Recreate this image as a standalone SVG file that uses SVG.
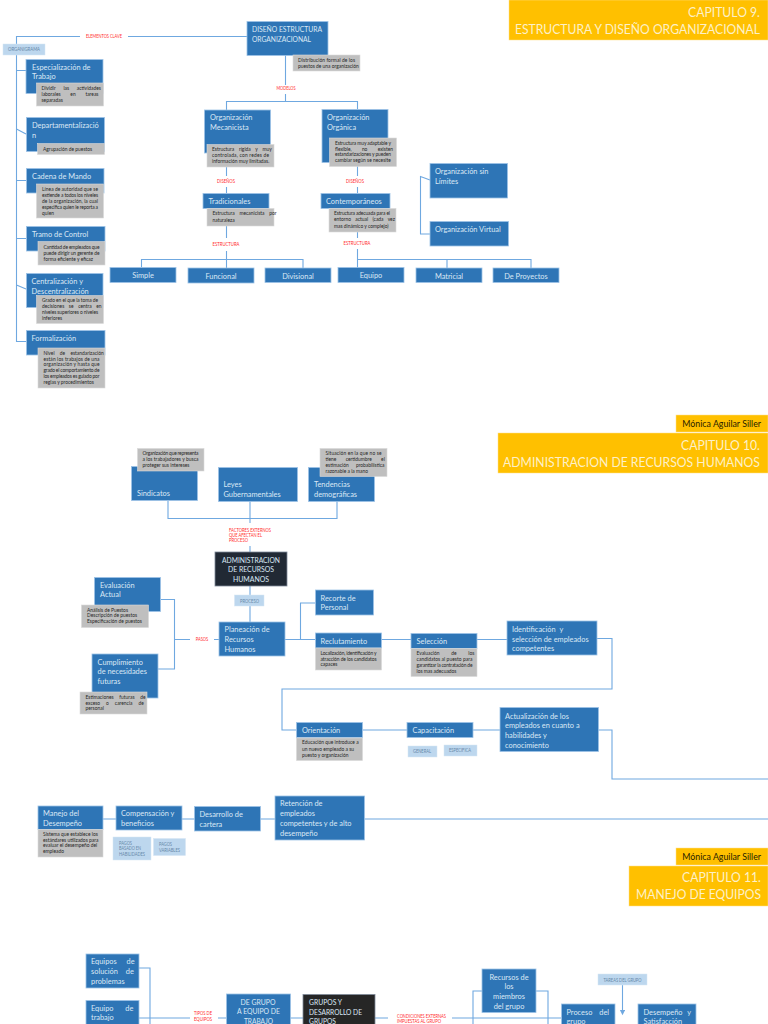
<svg xmlns="http://www.w3.org/2000/svg" width="768" height="1024" viewBox="0 0 768 1024">
<style>
text{font-family:"Lato","Liberation Sans",sans-serif}
.b{fill:#2e75b6;stroke:#9dc3e6;stroke-width:.8}
.d{stroke:#7f8a99;stroke-width:.8}
.g{fill:#bfbfbf;stroke:#d9d9d9;stroke-width:.6}
.s{fill:#bdd7ee;stroke:#d5e5f4;stroke-width:.5}
.y{fill:#ffc000;stroke:#ffe08a;stroke-width:.5}
.t{font-size:7.4px;fill:#dbe8f5}
.c{text-anchor:middle}
.n{font-size:4.9px;fill:#262626}
.r{font-size:5.4px;fill:#ff2a2a;text-anchor:middle}
.u{font-size:5.2px;fill:#6587a8;text-anchor:middle}
.l{text-anchor:start}
.h{font-size:12.4px;fill:#fdf0c8}
.m{font-size:8.8px;fill:#262000;text-anchor:end}
#links path{fill:none;stroke:#6fa8e0;stroke-width:1.1}
</style>
<defs><marker id="ah" markerWidth="6" markerHeight="6" refX="3" refY="2.500" orient="auto"><path d="M0 0L5 2.500L0 5Z" fill="#6fa8e0"/></marker></defs>
<g id="links">
<path d="M80 36.500H16.500V341.500H26M128 36.500H247M16.500 70.500H26M16.500 129L26 134M16.500 180.500H26M16.500 238.500H26M16.500 285L26 289"/>
<path d="M285.500 55V85M285.500 94V101.500M226.500 110V101.500H357.500V109M226.500 167V176M226.500 187V193M357.500 166V176M357.500 187V193M226.500 226V238M226.500 251V268M141.500 267V259.500H303V268M357.500 232V238M357.500 249V268M357.500 259.500H531V268M447 259.500V268M430 180L420.500 176.500V234H430"/>
<path d="M168 501V518.500H337V501M250 501V523M250 546V552M250 586V622M161 599.500H174.500V669H158M174.500 639.500H190M214 639.500H219M285 639.500H315M300.500 639.500V603H315M381 639.500H411M477 639.500H507M597 638.500H612V689H282V730H296M363 730H407M473 730H500M598 730H612V779H768M100 819H768"/>
<path d="M139 968H150V1024M139 1018H190M218 1018H226M290 1018H303M375 1018H388M452 1018H561M473 1024V991H482M536 991H548V1024"/>
<path d="M622.500 985V1013" marker-end="url(#ah)"/>
</g>
<g id="cap9"><rect class="y" x="509" y="0" width="259" height="40"/><text class="h" x="688" y="17" textLength="72" lengthAdjust="spacingAndGlyphs">CAPITULO 9.</text><text class="h" x="515" y="33.500" textLength="245" lengthAdjust="spacingAndGlyphs">ESTRUCTURA Y DISEÑO ORGANIZACIONAL</text></g>
<g id="autor10"><rect class="y" x="676" y="415" width="92" height="17"/><text class="m" x="761" y="427">Mónica Aguilar Siller</text></g>
<g id="cap10"><rect class="y" x="498" y="433" width="270" height="40"/><text class="h" x="681" y="450" textLength="79" lengthAdjust="spacingAndGlyphs">CAPITULO 10.</text><text class="h" x="503" y="467" textLength="257" lengthAdjust="spacingAndGlyphs">ADMINISTRACION DE RECURSOS HUMANOS</text></g>
<g id="autor11"><rect class="y" x="676" y="848" width="92" height="17"/><text class="m" x="761" y="860">Mónica Aguilar Siller</text></g>
<g id="cap11"><rect class="y" x="629" y="866" width="139" height="40"/><text class="h" x="682" y="882" textLength="79" lengthAdjust="spacingAndGlyphs">CAPITULO 11.</text><text class="h" x="636" y="899" textLength="125" lengthAdjust="spacingAndGlyphs">MANEJO DE EQUIPOS</text></g>

<g id="diseno"><rect class="b" x="247" y="21.500" width="81" height="34"/><text class="t" x="252" y="31.500" textLength="70" lengthAdjust="spacingAndGlyphs">DISEÑO ESTRUCTURA</text><text class="t" x="252" y="41.500" textLength="59" lengthAdjust="spacingAndGlyphs">ORGANIZACIONAL</text>
<rect class="g" x="293" y="55" width="67" height="16"/><text class="n" x="298" y="61.500" textLength="57">Distribución formal de los</text><text class="n" x="298" y="68">puestos de una organización</text></g>
<g id="elementos"><text class="r" x="104" y="38" textLength="36" lengthAdjust="spacingAndGlyphs">ELEMENTOS CLAVE</text></g>
<g id="organigrama"><rect class="s" x="3" y="44" width="42" height="11"/><text class="u" x="24" y="51" textLength="32" lengthAdjust="spacingAndGlyphs">ORGANIGRAMA</text></g>
<g id="especializacion"><rect class="b" x="26" y="59.500" width="77" height="34"/><text class="t" x="32" y="70">Especialización de</text><text class="t" x="32" y="79">Trabajo</text>
<rect class="g" x="36.500" y="83" width="67" height="23"/><text class="n" x="41.500" y="90" word-spacing="6.500">Dividir las actividades</text><text class="n" x="41.500" y="96" word-spacing="8.500">laborales en tareas</text><text class="n" x="41.500" y="102">separadas</text></g>
<g id="departamentalizacion"><rect class="b" x="26.500" y="117.500" width="78" height="34"/><text class="t" x="32" y="127.500">Departamentalizació</text><text class="t" x="32" y="137.500">n</text>
<rect class="g" x="37.500" y="143.500" width="67" height="11"/><text class="n" x="43" y="150.500">Agrupación de puestos</text></g>
<g id="cadena"><rect class="b" x="26.500" y="168.500" width="77.500" height="24.500"/><text class="t" x="32" y="179">Cadena de Mando</text>
<rect class="g" x="36.500" y="184" width="67" height="34"/><text class="n" x="42" y="190.500" textLength="56">Línea de autoridad que se</text><text class="n" x="42" y="196.500" textLength="56">extiende a todos los niveles</text><text class="n" x="42" y="202.500" textLength="56">de la organización, la cual</text><text class="n" x="42" y="208.500" textLength="56">especifica quien le reporta a</text><text class="n" x="42" y="214.500">quien</text></g>
<g id="tramo"><rect class="b" x="26.500" y="226.500" width="78.500" height="24.500"/><text class="t" x="32" y="237">Tramo de Control</text>
<rect class="g" x="38" y="241.500" width="67" height="23.500"/><text class="n" x="43.500" y="248.500" textLength="56">Cantidad de empleados que</text><text class="n" x="43.500" y="254.500" textLength="56">puede dirigir un gerente de</text><text class="n" x="43.500" y="260.500">forma eficiente y eficaz</text></g>
<g id="centralizacion"><rect class="b" x="26.500" y="273.500" width="76.500" height="34"/><text class="t" x="31.500" y="283.500">Centralización y</text><text class="t" x="31.500" y="293.500">Descentralización</text>
<rect class="g" x="36.500" y="295.500" width="67" height="28"/><text class="n" x="42" y="302" textLength="56">Grado en el que la toma de</text><text class="n" x="42" y="308" word-spacing="3.300">decisiones se centra en</text><text class="n" x="42" y="313.500" textLength="56">niveles superiores o niveles</text><text class="n" x="42" y="319.500">inferiores</text></g>
<g id="formalizacion"><rect class="b" x="26.500" y="330.500" width="78.500" height="24.500"/><text class="t" x="31.500" y="341">Formalización</text>
<rect class="g" x="38" y="348" width="67" height="40"/><text class="n" x="43.500" y="354.500" word-spacing="4">Nivel de estandarización</text><text class="n" x="43.500" y="360.500" textLength="56">están los trabajos de una</text><text class="n" x="43.500" y="366" textLength="56">organización y hasta que</text><text class="n" x="43.500" y="372" textLength="56">grado el comportamiento de</text><text class="n" x="43.500" y="377.500" textLength="56">los empleados es guiado por</text><text class="n" x="43.500" y="383.500">reglas y procedimientos</text></g>

<g id="modelos"><text class="r" x="286" y="90" textLength="19" lengthAdjust="spacingAndGlyphs">MODELOS</text></g>
<g id="mecanicista"><rect class="b" x="204.500" y="110" width="66" height="43"/><text class="t" x="210" y="120">Organización</text><text class="t" x="210" y="129.500">Mecanicista</text>
<rect class="g" x="207" y="144.500" width="67" height="22.500"/><text class="n" x="212" y="151" word-spacing="3.500">Estructura rígida y muy</text><text class="n" x="212" y="156.500" textLength="57">controlada, con redes de</text><text class="n" x="212" y="162.500">información muy limitadas.</text></g>
<g id="organica"><rect class="b" x="322" y="109.500" width="66" height="53"/><text class="t" x="327" y="119.500">Organización</text><text class="t" x="327" y="129.500">Orgánica</text>
<rect class="g" x="329.500" y="138" width="67" height="28.500"/><text class="n" x="335" y="144.500" textLength="56">Estructura muy adaptable y</text><text class="n" x="335" y="150.500" word-spacing="9">flexible, no existen</text><text class="n" x="335" y="156" textLength="56">estandarizaciones y pueden</text><text class="n" x="335" y="162">cambiar según se necesite</text></g>
<g id="disenos1"><text class="r" x="226" y="183" textLength="18" lengthAdjust="spacingAndGlyphs">DISEÑOS</text></g><g id="disenos2"><text class="r" x="355" y="183" textLength="18" lengthAdjust="spacingAndGlyphs">DISEÑOS</text></g>
<g id="tradicionales"><rect class="b" x="203" y="193.500" width="66" height="15"/><text class="t" x="208.500" y="203.500">Tradicionales</text>
<rect class="g" x="207" y="208.500" width="67" height="17.500"/><text class="n" x="212.500" y="215" word-spacing="3.500">Estructura mecanicista por</text><text class="n" x="212.500" y="221.500">naturaleza</text></g>
<g id="contemporaneos"><rect class="b" x="321" y="193.500" width="69" height="15"/><text class="t" x="326" y="203.500">Contemporáneos</text>
<rect class="g" x="329" y="208.500" width="67" height="23.500"/><text class="n" x="334" y="215" textLength="56">Estructura adecuada para el</text><text class="n" x="334" y="221" word-spacing="3">entorno actual (cada vez</text><text class="n" x="334" y="227.500">mas dinámico y complejo)</text></g>
<g id="estructura1"><text class="r" x="226" y="246" textLength="27" lengthAdjust="spacingAndGlyphs">ESTRUCTURA</text></g><g id="estructura2"><text class="r" x="357" y="245" textLength="27" lengthAdjust="spacingAndGlyphs">ESTRUCTURA</text></g>
<g id="simple"><rect class="b" x="110" y="267.500" width="66" height="15"/><text class="t c" x="143" y="278">Simple</text></g>
<g id="funcional"><rect class="b" x="188" y="268" width="66" height="15"/><text class="t c" x="221" y="278.500">Funcional</text></g>
<g id="divisional"><rect class="b" x="265" y="268" width="66" height="14.500"/><text class="t c" x="298" y="278.500">Divisional</text></g>
<g id="equipo"><rect class="b" x="338" y="267.500" width="66" height="15"/><text class="t c" x="371" y="277.500">Equipo</text></g>
<g id="matricial"><rect class="b" x="416" y="268" width="66" height="14.500"/><text class="t c" x="449" y="278.500">Matricial</text></g>
<g id="proyectos"><rect class="b" x="493" y="268" width="66" height="14.500"/><text class="t c" x="526" y="278.500">De Proyectos</text></g>
<g id="sinlimites"><rect class="b" x="430" y="163.500" width="77.500" height="34.500"/><text class="t" x="435" y="174">Organización sin</text><text class="t" x="435" y="183.500">Límites</text></g>
<g id="virtual"><rect class="b" x="430" y="221.500" width="78.500" height="24.500"/><text class="t" x="435" y="232">Organización Virtual</text></g>

<g id="sindicatos"><rect class="b" x="131.500" y="466.500" width="66" height="34"/><text class="t" x="137" y="496">Sindicatos</text>
<rect class="g" x="137.500" y="448.500" width="66.500" height="22.500"/><text class="n" x="142.500" y="455" textLength="56">Organización que representa</text><text class="n" x="142.500" y="461" textLength="56">a los trabajadores y busca</text><text class="n" x="142.500" y="467">proteger sus intereses</text></g>
<g id="leyes"><rect class="b" x="218.500" y="467.500" width="79" height="34"/><text class="t" x="223.500" y="487">Leyes</text><text class="t" x="223.500" y="497">Gubernamentales</text></g>
<g id="tendencias"><rect class="b" x="308.500" y="467.500" width="66" height="34"/><text class="t" x="314" y="487">Tendencias</text><text class="t" x="314" y="497">demográficas</text>
<rect class="g" x="320" y="448.500" width="67" height="28"/><text class="n" x="325.500" y="455" textLength="56">Situación en la que no se</text><text class="n" x="325.500" y="461" word-spacing="8">tiene certidumbre el</text><text class="n" x="325.500" y="466.500" word-spacing="6">estimación probabilística</text><text class="n" x="325.500" y="472.500">razonable a la mano</text></g>
<g id="factores"><text class="r l" x="229" y="531.500" textLength="42" lengthAdjust="spacingAndGlyphs">FACTORES EXTERNOS</text><text class="r l" x="229" y="536.500" textLength="33" lengthAdjust="spacingAndGlyphs">QUE AFECTAN EL</text><text class="r l" x="229" y="541.500" textLength="19" lengthAdjust="spacingAndGlyphs">PROCESO</text></g>
<g id="admin"><rect x="215" y="552" width="72" height="34" fill="#212934" class="d"/><text class="t c" x="251" y="562.500" textLength="58" lengthAdjust="spacingAndGlyphs">ADMINISTRACION</text><text class="t c" x="251" y="571.500" textLength="46" lengthAdjust="spacingAndGlyphs">DE RECURSOS</text><text class="t c" x="251" y="581.500" textLength="36" lengthAdjust="spacingAndGlyphs">HUMANOS</text></g>
<g id="proceso"><rect class="s" x="234.500" y="595" width="29.500" height="11"/><text class="u" x="249.500" y="602.500" textLength="19" lengthAdjust="spacingAndGlyphs">PROCESO</text></g>
<g id="planeacion"><rect class="b" x="219" y="622" width="66" height="34"/><text class="t" x="224.500" y="632">Planeación de</text><text class="t" x="224.500" y="642">Recursos</text><text class="t" x="224.500" y="651.500">Humanos</text></g>
<g id="evaluacion"><rect class="b" x="94.500" y="577.500" width="66" height="34"/><text class="t" x="100" y="588">Evaluación</text><text class="t" x="100" y="597">Actual</text>
<rect class="g" x="81.500" y="605" width="67" height="22.500"/><text class="n" x="87" y="611.500">Análisis de Puestos</text><text class="n" x="87" y="616.500">Descripción de puestos</text><text class="n" x="87" y="623">Especificación de puestos</text></g>
<g id="cumplimiento"><rect class="b" x="92" y="654" width="66" height="44"/><text class="t" x="97.500" y="665">Cumplimiento</text><text class="t" x="97.500" y="674">de necesidades</text><text class="t" x="97.500" y="684">futuras</text>
<rect class="g" x="80" y="692" width="67" height="22"/><text class="n" x="85.500" y="698.500" word-spacing="4.500">Estimaciones futuras de</text><text class="n" x="85.500" y="704.500" word-spacing="4.700">exceso o carencia de</text><text class="n" x="85.500" y="710">personal</text></g>
<g id="pasos"><text class="r" x="202" y="640.500" textLength="12.500" lengthAdjust="spacingAndGlyphs">PASOS</text></g>
<g id="recorte"><rect class="b" x="315.500" y="590" width="58" height="25"/><text class="t" x="320.500" y="601">Recorte de</text><text class="t" x="320.500" y="610">Personal</text></g>
<g id="reclutamiento"><rect class="b" x="315.500" y="633" width="66" height="15"/><text class="t" x="320.500" y="643.500">Reclutamiento</text>
<rect class="g" x="315.500" y="648" width="66" height="22"/><text class="n" x="320.500" y="654.500" textLength="56">Localización, identificación y</text><text class="n" x="320.500" y="660.500" textLength="56">atracción de los candidatos</text><text class="n" x="320.500" y="666">capaces</text></g>
<g id="seleccion"><rect class="b" x="411" y="633.500" width="66" height="15"/><text class="t" x="416.500" y="643.500">Selección</text>
<rect class="g" x="411" y="648.500" width="66" height="28"/><text class="n" x="416.500" y="655" word-spacing="10.500">Evaluación de los</text><text class="n" x="416.500" y="661" textLength="56">candidatos al puesto para</text><text class="n" x="416.500" y="666.500" textLength="56">garantizar la contratación de</text><text class="n" x="416.500" y="672.500">los mas adecuados</text></g>
<g id="identificacion"><rect class="b" x="507" y="621" width="90" height="34"/><text class="t" x="512" y="631.500" word-spacing="2">Identificación y</text><text class="t" x="512" y="641.500">selección de empleados</text><text class="t" x="512" y="650.500">competentes</text></g>
<g id="orientacion"><rect class="b" x="296.500" y="722.500" width="66" height="15"/><text class="t" x="302" y="733">Orientación</text>
<rect class="g" x="296.500" y="738" width="66" height="22.500"/><text class="n" x="302" y="744">Educación que introduce a</text><text class="n" x="302" y="750.500">un nuevo empleado a su</text><text class="n" x="302" y="756.500">puesto y organización</text></g>
<g id="capacitacion"><rect class="b" x="407" y="722.500" width="66" height="15"/><text class="t" x="412.500" y="733">Capacitación</text></g>
<g id="general"><rect class="s" x="408" y="746" width="29" height="11"/><text class="u" x="422" y="753" textLength="18" lengthAdjust="spacingAndGlyphs">GENERAL</text></g>
<g id="especifica"><rect class="s" x="444" y="745" width="33" height="11"/><text class="u" x="460" y="752" textLength="22" lengthAdjust="spacingAndGlyphs">ESPECIFICA</text></g>
<g id="actualizacion"><rect class="b" x="500" y="707.500" width="98.500" height="44"/><text class="t" x="505" y="718.500">Actualización de los</text><text class="t" x="505" y="728">empleados en cuanto a</text><text class="t" x="505" y="737.500">habilidades y</text><text class="t" x="505" y="747.500">conocimiento</text></g>

<g id="manejo"><rect class="b" x="38" y="806" width="65" height="23.500"/><text class="t" x="43" y="816">Manejo del</text><text class="t" x="43" y="826">Desempeño</text>
<rect class="g" x="38" y="829.500" width="65" height="27.500"/><text class="n" x="43" y="835.500">Sistema que establece los</text><text class="n" x="43" y="841.500">estándares utilizados para</text><text class="n" x="43" y="847">evaluar el desempeño del</text><text class="n" x="43" y="853">empleado</text></g>
<g id="compensacion"><rect class="b" x="116" y="806" width="66" height="24"/><text class="t" x="121" y="816">Compensación y</text><text class="t" x="121" y="826">beneficios</text></g>
<g id="pagos1"><rect class="s" x="113" y="837" width="38" height="23"/><text class="u l" x="119" y="844.500" textLength="13" lengthAdjust="spacingAndGlyphs">PAGOS</text><text class="u l" x="119" y="850" textLength="22" lengthAdjust="spacingAndGlyphs">BASADO EN</text><text class="u l" x="119" y="856" textLength="26" lengthAdjust="spacingAndGlyphs">HABILIDADES</text></g>
<g id="pagos2"><rect class="s" x="153.500" y="838.500" width="32" height="17"/><text class="u l" x="159" y="845.500" textLength="13" lengthAdjust="spacingAndGlyphs">PAGOS</text><text class="u l" x="159" y="851.500" textLength="21" lengthAdjust="spacingAndGlyphs">VARIABLES</text></g>
<g id="desarrollo"><rect class="b" x="194.500" y="806.500" width="66" height="24.500"/><text class="t" x="199.500" y="816.500">Desarrollo de</text><text class="t" x="199.500" y="826.500">cartera</text></g>
<g id="retencion"><rect class="b" x="275" y="796" width="89.500" height="44"/><text class="t" x="280" y="806">Retención de</text><text class="t" x="280" y="816">empleados</text><text class="t" x="280" y="825.500">competentes y de alto</text><text class="t" x="280" y="835.500">desempeño</text></g>

<g id="solucion"><rect class="b" x="86" y="954" width="53" height="34"/><text class="t" x="91" y="964" word-spacing="8">Equipos de</text><text class="t" x="91" y="973.500" word-spacing="6">solución de</text><text class="t" x="91" y="983.500">problemas</text></g>
<g id="trabajo"><rect class="b" x="86" y="1000.500" width="53" height="30"/><text class="t" x="91" y="1010.500" word-spacing="10">Equipo de</text><text class="t" x="91" y="1020">trabajo</text></g>
<g id="tipos"><text class="r" x="203" y="1014.500" textLength="18" lengthAdjust="spacingAndGlyphs">TIPOS DE</text><text class="r" x="203" y="1020.500" textLength="18" lengthAdjust="spacingAndGlyphs">EQUIPOS</text></g>
<g id="degrupo"><rect class="b" x="226.500" y="994" width="64" height="36"/><text class="t c" x="258" y="1004.500" textLength="35" lengthAdjust="spacingAndGlyphs">DE GRUPO</text><text class="t c" x="258.500" y="1014" textLength="43" lengthAdjust="spacingAndGlyphs">A EQUIPO DE</text><text class="t c" x="258.500" y="1023.500" textLength="29" lengthAdjust="spacingAndGlyphs">TRABAJO</text></g>
<g id="grupos"><rect x="303" y="994.500" width="72" height="36" fill="#262626" class="d"/><text class="t" x="309" y="1005" textLength="33" lengthAdjust="spacingAndGlyphs">GRUPOS Y</text><text class="t" x="309" y="1014.500" textLength="53" lengthAdjust="spacingAndGlyphs">DESARROLLO DE</text><text class="t" x="309" y="1023.500" textLength="27" lengthAdjust="spacingAndGlyphs">GRUPOS</text></g>
<g id="condiciones"><text class="r l" x="397" y="1017.500" textLength="49" lengthAdjust="spacingAndGlyphs">CONDICIONES EXTERNAS</text><text class="r l" x="397" y="1023" textLength="44" lengthAdjust="spacingAndGlyphs">IMPUESTAS AL GRUPO</text></g>
<g id="recursos"><rect class="b" x="482" y="969" width="54" height="43.500"/><text class="t c" x="509" y="979.500">Recursos de</text><text class="t c" x="509" y="989">los</text><text class="t c" x="509" y="999">miembros</text><text class="t c" x="509" y="1008.500">del grupo</text></g>
<g id="proceso-grupo"><rect class="b" x="561.500" y="1004" width="53.500" height="26"/><text class="t" x="566.500" y="1015" word-spacing="5">Proceso del</text><text class="t" x="566.500" y="1023.500">grupo</text></g>
<g id="tareas"><rect class="s" x="598" y="974" width="49" height="11"/><text class="u" x="622.500" y="981.500" textLength="38" lengthAdjust="spacingAndGlyphs">TAREAS DEL GRUPO</text></g>
<g id="desempeno"><rect class="b" x="638" y="1004" width="58" height="26"/><text class="t" x="643.500" y="1015" word-spacing="3">Desempeño y</text><text class="t" x="643.500" y="1023.500">Satisfacción</text></g>
</svg>
